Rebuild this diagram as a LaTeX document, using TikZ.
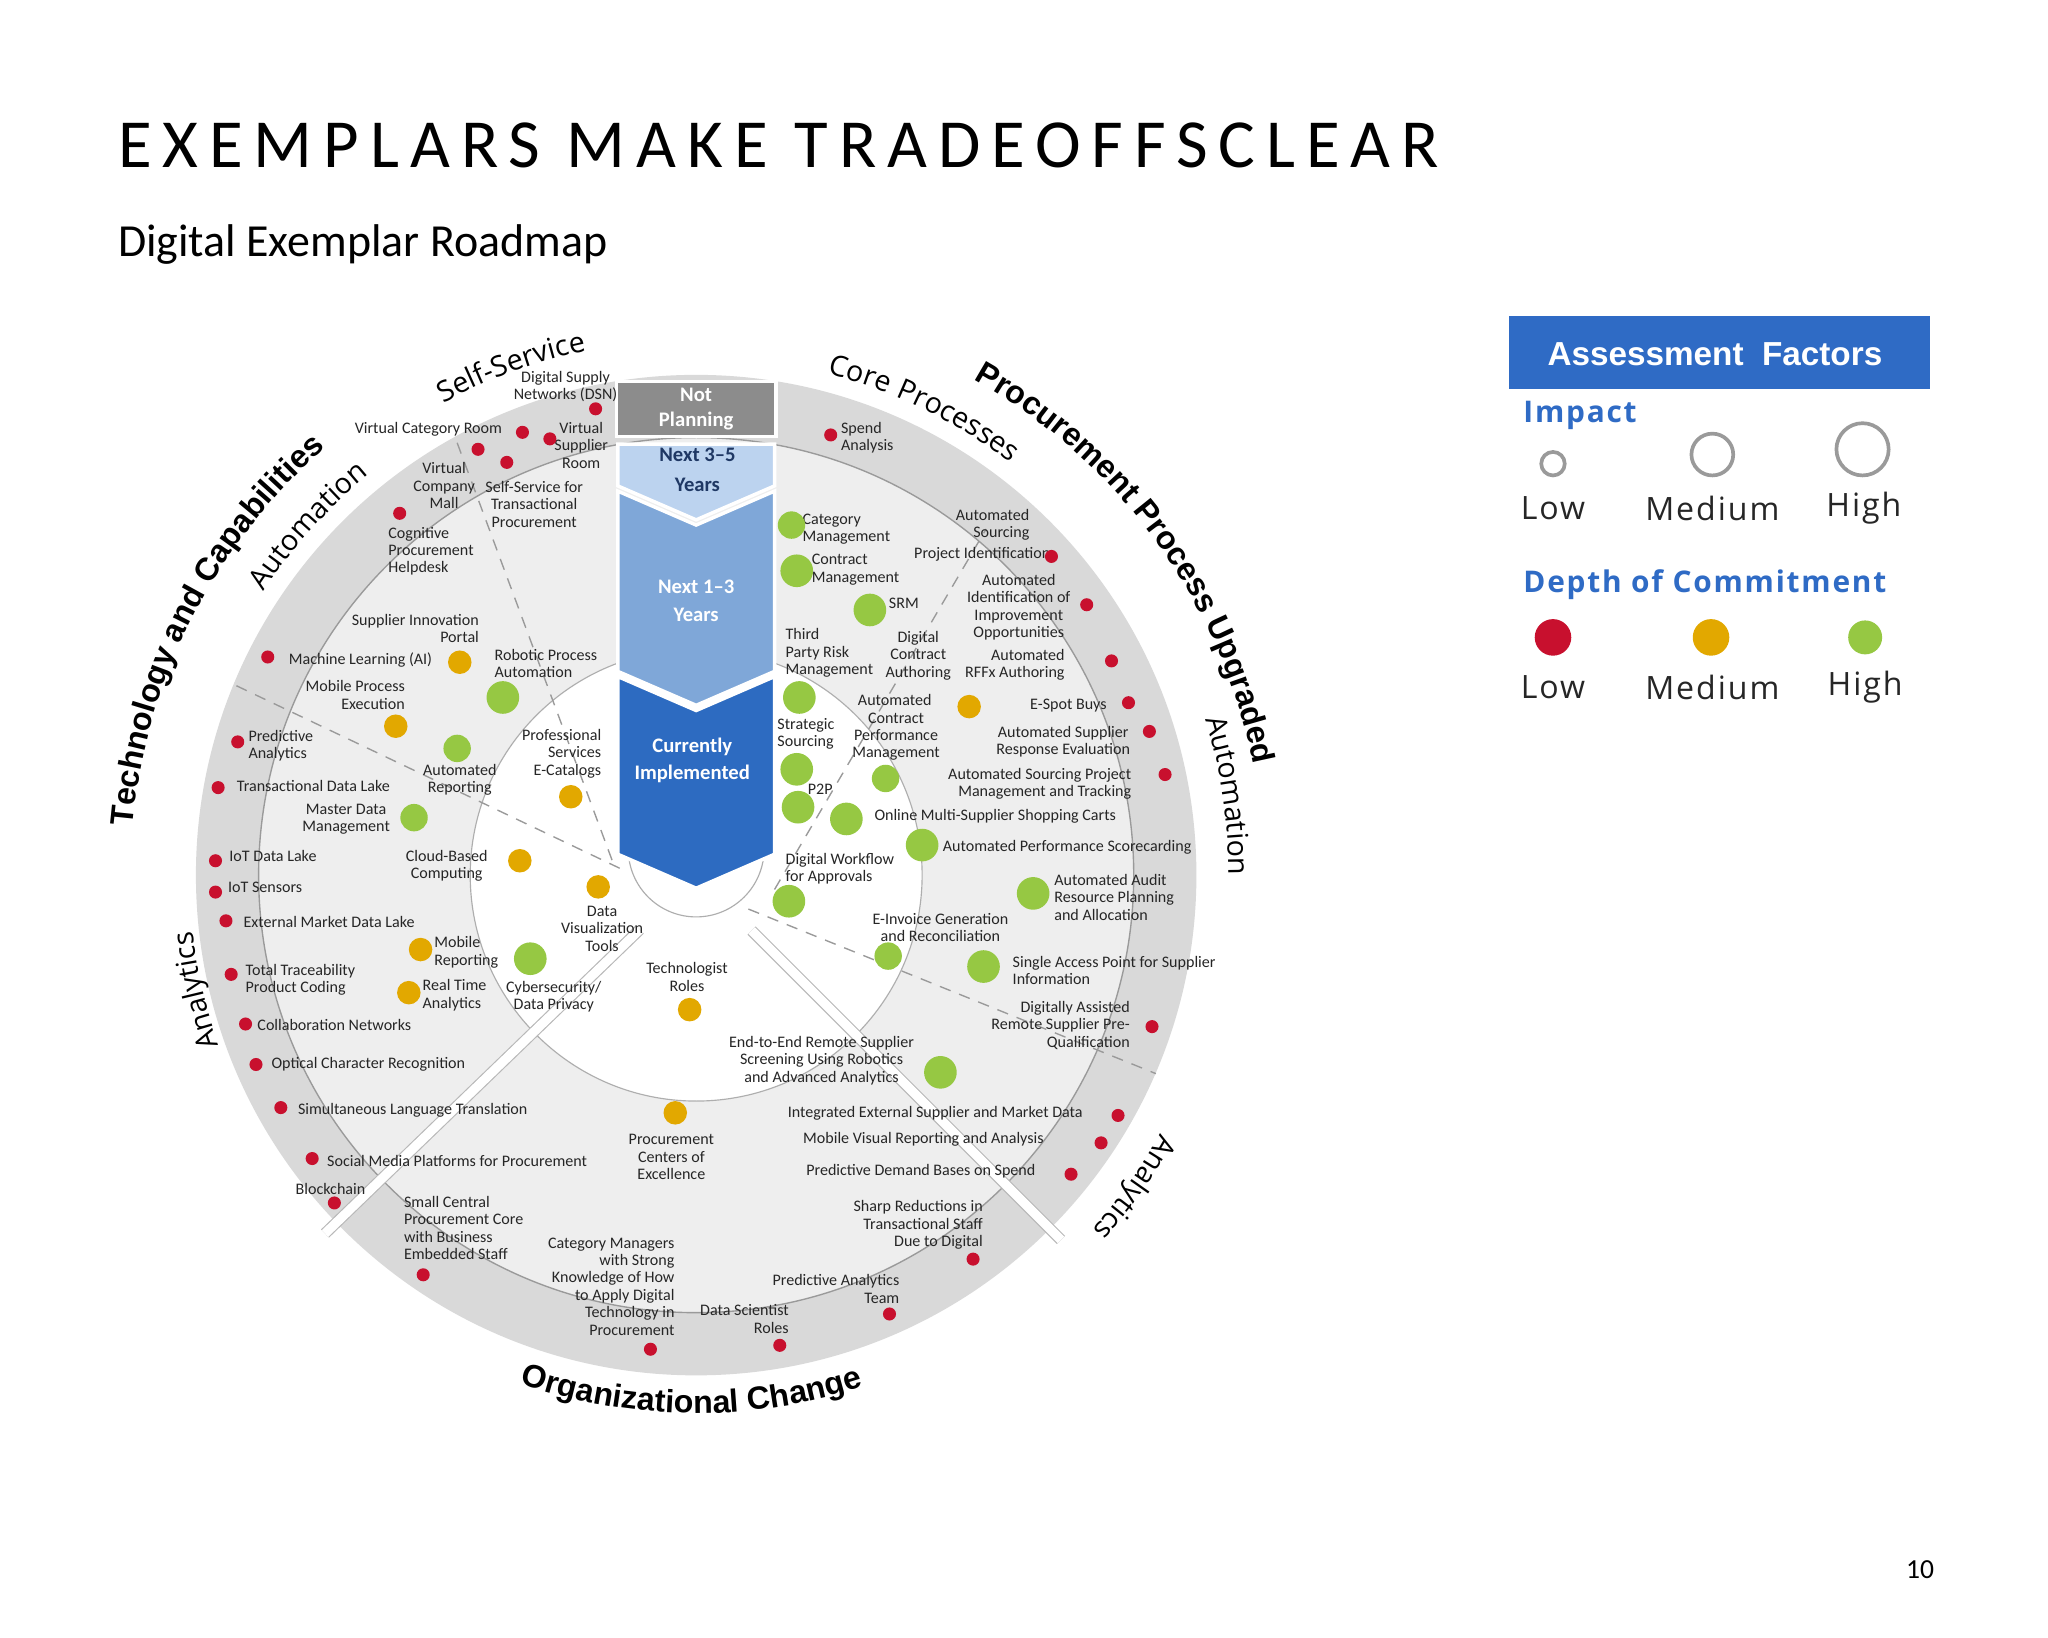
\documentclass[tikz,border=0pt]{standalone}
\usepackage{fontspec}
\setmainfont{Carlito}
\newfontfamily\titlefont[LetterSpace=16]{Carlito}
\newfontfamily\lblfont[LetterSpace=6]{Open Sans}
\newfontfamily\boldlbl{Liberation Sans}
\usetikzlibrary{decorations.text}
\definecolor{cred}{HTML}{C8102E}
\definecolor{cgold}{HTML}{E2A800}
\definecolor{cgreen}{HTML}{96C843}
\definecolor{ringgray}{HTML}{D9D9D9}
\definecolor{innergray}{HTML}{EEEEEE}
\definecolor{lgray}{HTML}{9A9A9A}
\definecolor{npgray}{HTML}{8C8C8C}
\definecolor{bl1}{HTML}{BCD3EF}
\definecolor{bl2}{HTML}{7FA7D8}
\definecolor{bl3}{HTML}{2D6BC1}
\definecolor{hdr}{HTML}{2F6BC5}
\definecolor{navy}{HTML}{1F3864}
\tikzset{
 rd/.style={circle,fill=cred,minimum size=0.2cm,inner sep=0},
 gd/.style={circle,fill=cgold,minimum size=0.36cm,inner sep=0},
 gn/.style={circle,fill=cgreen,minimum size=0.42cm,inner sep=0},
 gnl/.style={gn,minimum size=0.5cm},
 t/.style={font=\fontsize{7}{7.6}\selectfont,align=center,inner sep=0,text=black!85},
 dsh/.style={dashed,draw=lgray,line width=0.6pt,dash pattern=on 5pt off 4pt},
 gap/.style={draw=lgray!70,double=white,double distance=4pt,line width=0.5pt},
 arrowpart/.style={draw=white,line width=1.5pt},
 leg/.style={font=\lblfont\fontsize{14}{14}\selectfont,text=black!85},
}
\begin{document}
\begin{tikzpicture}[x=0.02cm,y=0.02cm]
\useasboundingbox (0,0) rectangle (1568,-1254);
\fill[white] (0,0) rectangle (1568,-1254);
\coordinate (C) at (533,-670);
% titles
\node[anchor=base west,inner sep=0,font=\titlefont\fontsize{30}{30}\selectfont] (title) at (90,-128) {EXEMPLARS MAKE TRADEOFFSCLEAR};
\node[anchor=base west,inner sep=0,font=\fontsize{20}{20}\selectfont] (sub) at (90,-196) {Digital Exemplar Roadmap};
\node[font=\fontsize{12}{12}\selectfont] (pg) at (1470,-1202) {10};
% rings
\fill[ringgray] (C) circle[radius=383];
\filldraw[fill=innergray,draw=lgray,line width=0.6pt] (C) circle[radius=335];
\filldraw[fill=white,draw=lgray!80,line width=0.5pt] (C) circle[radius=173];
% dashed section lines
\draw[dsh] (350,-339) -- (471,-665);
\draw[dsh] (181,-525) -- (475,-665);
\draw[dsh] (593,-681) -- (755,-405);
\draw[dsh] (573,-696) -- (885,-822);
% channel lines
\draw[gap] ([shift={(224:60)}]C) -- ([shift={(224:395)}]C);
\draw[gap] ([shift={(-45:60)}]C) -- ([shift={(-45:395)}]C);
\filldraw[fill=white,draw=lgray!80,line width=0.5pt] (533,-650) circle[radius=52];
% central arrow
\filldraw[arrowpart,fill=npgray] (472,-292) rectangle (594,-334);
\node[font=\bfseries\fontsize{9}{11}\selectfont,text=white,align=center] (np) at (533,-313) {Not\\Planning};
\filldraw[arrowpart,fill=bl1] (473,-340) -- (593,-340) -- (593,-372) -- (533,-398) -- (473,-372) -- cycle;
\node[font=\bfseries\fontsize{9}{13}\selectfont,text=navy,align=center] (n35) at (534,-360) {Next 3–5\\Years};
\filldraw[arrowpart,fill=bl2] (473,-376) -- (533,-402) -- (593,-376) -- (593,-514) -- (533,-540) -- (473,-514) -- cycle;
\node[font=\bfseries\fontsize{9}{12}\selectfont,text=white,align=center] (n13) at (533,-460) {Next 1–3\\Years};
\filldraw[arrowpart,fill=bl3] (473,-518) -- (533,-544) -- (593,-518) -- (593,-654) -- (533,-680) -- (473,-654) -- cycle;
\node[font=\bfseries\fontsize{9}{12}\selectfont,text=white,align=center] (cur) at (530,-582) {Currently\\Implemented};
% curved labels
\path[decorate,decoration={text along path,text align=center,text={|\lblfont\fontsize{12.5}{12.5}\selectfont|Self-Service}}] ([shift={(130:410)}]C) arc[start angle=130,end angle=90,radius=410];
\path[decorate,decoration={text along path,text align=center,text={|\lblfont\fontsize{12.5}{12.5}\selectfont|Core Processes}}] ([shift={(86:397)}]C) arc[start angle=86,end angle=42,radius=397];
\path[decorate,decoration={text along path,text align=center,text={|\boldlbl\bfseries\fontsize{14}{14}\selectfont|Procurement Process Upgraded}}] ([shift={(64:435)}]C) arc[start angle=64,end angle=8,radius=435];
\path[decorate,decoration={text along path,text align=center,text={|\boldlbl\bfseries\fontsize{14}{14}\selectfont|Technology and Capabilities}}] ([shift={(180:433)}]C) arc[start angle=180,end angle=126,radius=433];
\path[decorate,decoration={text along path,text align=center,text={|\lblfont\fontsize{12.5}{12.5}\selectfont|Automation}}] ([shift={(155:396)}]C) arc[start angle=155,end angle=121,radius=396];
\path[decorate,decoration={text along path,text align=center,text={|\lblfont\fontsize{12.5}{12.5}\selectfont|Automation}}] ([shift={(25:408)}]C) arc[start angle=25,end angle=-8,radius=408];
\path[decorate,decoration={text along path,text align=center,text={|\lblfont\fontsize{12.5}{12.5}\selectfont|Analytics}}] ([shift={(208:388)}]C) arc[start angle=208,end angle=178,radius=388];
\path[decorate,decoration={text along path,text align=center,text={|\lblfont\fontsize{12.5}{12.5}\selectfont|Analytics}}] ([shift={(-20:407)}]C) arc[start angle=-20,end angle=-51,radius=407];
\path[decorate,decoration={text along path,text align=center,text={|\boldlbl\bfseries\fontsize{14}{14}\selectfont|Organizational Change}}] ([shift={(240:412)}]C) arc[start angle=240,end angle=299,radius=412];
% ---- top-left (self-service)
\node[t] (a1) at (433,-296) {Digital Supply\\Networks (DSN)};
\node[t] (a2) at (328,-329) {Virtual Category Room};
\node[t] (a3) at (445,-341) {Virtual\\Supplier\\Room};
\node[t] (a4) at (340,-372) {Virtual\\Company\\Mall};
\node[t] (a5) at (409,-386) {Self-Service for\\Transactional\\Procurement};
\node[t,align=left] (a6) at (330,-422) {Cognitive\\Procurement\\Helpdesk};
\node[rd] (ra1) at (456,-313) {};
\node[rd] (ra2) at (400,-331) {};
\node[rd] (ra3) at (421,-336) {};
\node[rd] (ra4) at (366,-344) {};
\node[rd] (ra5) at (388,-354) {};
\node[rd] (ra6) at (306,-393) {};
% ---- left (automation)
\node[t,align=right] (b1) at (318,-481) {Supplier Innovation\\Portal};
\node[t] (b2) at (276,-505) {Machine Learning (AI)};
\node[rd] (rb2) at (205,-503) {};
\node[gd] (gb2) at (352,-507) {};
\node[t,align=left] (b3) at (418,-508) {Robotic Process\\Automation};
\node[gnl] (nb3) at (385,-534) {};
\node[t,align=right] (b4) at (272,-532) {Mobile Process\\Execution};
\node[gd] (gb4) at (303,-556) {};
\node[t,align=left] (b5) at (215,-571) {Predictive\\Analytics};
\node[rd] (rb5) at (182,-568) {};
\node[gn] (nb6) at (350,-573) {};
\node[t] (b6) at (352,-597) {Automated\\Reporting};
\node[t,align=right] (b7) at (430,-577) {Professional\\Services\\E-Catalogs};
\node[gd] (gb7) at (437,-610) {};
\node[t] (b8) at (240,-602) {Transactional Data Lake};
\node[rd] (rb8) at (167,-603) {};
\node[t] (b9) at (265,-627) {Master Data\\Management};
\node[gn] (nb9) at (317,-626) {};
\node[t] (b10) at (209,-655) {IoT Data Lake};
\node[rd] (rb10) at (165,-659) {};
\node[t] (b11) at (342,-663) {Cloud-Based\\Computing};
\node[gd] (gb11) at (398,-659) {};
\node[t] (b12) at (203,-679) {IoT Sensors};
\node[rd] (rb12) at (165,-683) {};
\node[gd] (gb13) at (458,-679) {};
\node[t] (b13) at (461,-711) {Data\\Visualization\\Tools};
\node[t] (b14) at (252,-706) {External Market Data Lake};
\node[rd] (rb14) at (173,-705) {};
% ---- left lower (analytics)
\node[gd] (gc1) at (322,-727) {};
\node[t,align=left] (c1) at (357,-729) {Mobile\\Reporting};
\node[gnl] (nc2) at (406,-734) {};
\node[t,align=left] (c3) at (230,-750) {Total Traceability\\Product Coding};
\node[rd] (rc3) at (177,-746) {};
\node[gd] (gc4) at (313,-760) {};
\node[t,align=left] (c4) at (348,-762) {Real Time\\Analytics};
\node[t] (c5) at (424,-763) {Cybersecurity/\\Data Privacy};
\node[t] (c6) at (526,-748) {Technologist\\Roles};
\node[gd] (gc6) at (528,-773) {};
\node[t] (c7) at (256,-785) {Collaboration Networks};
\node[rd] (rc7) at (188,-784) {};
\node[t] (c8) at (282,-815) {Optical Character Recognition};
\node[rd] (rc8) at (196,-815) {};
\node[t] (c9) at (316,-850) {Simultaneous Language Translation};
\node[rd] (rc9) at (215,-848) {};
\node[t] (c10) at (350,-889) {Social Media Platforms for Procurement};
\node[rd] (rc10) at (239,-887) {};
\node[t] (c11) at (253,-910) {Blockchain};
\node[rd] (rc11) at (256,-921) {};
% ---- bottom (organizational change)
\node[t,align=left] (d1) at (355,-940) {Small Central\\Procurement Core\\with Business\\Embedded Staff};
\node[rd] (rd1) at (324,-976) {};
\node[gd] (gd2) at (517,-852) {};
\node[t] (d2) at (514,-886) {Procurement\\Centers of\\Excellence};
\node[t,align=right] (d3) at (468,-985) {Category Managers\\with Strong\\Knowledge of How\\to Apply Digital\\Technology in\\Procurement};
\node[rd] (rd3) at (498,-1033) {};
\node[t,align=right] (d4) at (640,-987) {Predictive Analytics\\Team};
\node[rd] (rd4) at (681,-1006) {};
\node[t,align=right] (d5) at (570,-1010) {Data Scientist\\Roles};
\node[rd] (rd5) at (597,-1030) {};
\node[t,align=right] (d6) at (703,-938) {Sharp Reductions in\\Transactional Staff\\Due to Digital};
\node[rd] (rd6) at (745,-964) {};
% ---- right lower (analytics)
\node[t] (e1) at (629,-812) {End-to-End Remote Supplier\\Screening Using Robotics\\and Advanced Analytics};
\node[gnl] (ne1) at (720,-821) {};
\node[t] (e2) at (716,-852) {Integrated External Supplier and Market Data};
\node[rd] (re2) at (856,-854) {};
\node[t] (e3) at (707,-872) {Mobile Visual Reporting and Analysis};
\node[rd] (re3) at (843,-875) {};
\node[t] (e4) at (705,-897) {Predictive Demand Bases on Spend};
\node[rd] (re4) at (820,-899) {};
\node[t,align=right] (e5) at (812,-785) {Digitally Assisted\\Remote Supplier Pre-\\Qualification};
\node[rd] (re5) at (882,-786) {};
\node[t,align=left] (e6) at (853,-743) {Single Access Point for Supplier\\Information};
\node[gnl] (ne6) at (753,-740) {};
\node[t] (e7) at (720,-710) {E-Invoice Generation\\and Reconciliation};
\node[gn] (ne7) at (680,-732) {};
% ---- right (core / automation)
\node[t,align=left] (f1) at (853,-687) {Automated Audit\\Resource Planning\\and Allocation};
\node[gnl] (nf1) at (791,-684) {};
\node[t,align=left] (f2) at (643,-665) {Digital Workflow\\for Approvals};
\node[gnl] (nf2) at (604,-690) {};
\node[gnl] (nf3) at (706,-647) {};
\node[t] (f3) at (817,-649) {Automated Performance Scorecarding};
\node[gnl] (nf4) at (648,-627) {};
\node[t] (f4) at (762,-625) {Online Multi-Supplier Shopping Carts};
\node[gnl] (nf5) at (611,-618) {};
\node[gnl] (nf6) at (610,-589) {};
\node[t] (f5) at (628,-604) {P2P};
\node[gn] (nf7) at (678,-596) {};
\node[t,align=right] (f7) at (796,-600) {Automated Sourcing Project\\Management and Tracking};
\node[rd] (rf7) at (892,-593) {};
\node[t,align=left] (f8) at (617,-562) {Strategic\\Sourcing};
\node[t] (f9) at (686,-564) {Contract\\Performance\\Management};
\node[t] (f10) at (814,-568) {Automated Supplier\\Response Evaluation};
\node[rd] (rf10) at (880,-560) {};
\node[gnl] (nf11) at (612,-534) {};
\node[t] (f11) at (685,-536) {Automated};
\node[gd] (gf12) at (742,-541) {};
\node[t] (f12) at (818,-540) {E-Spot Buys};
\node[rd] (rf12) at (864,-538) {};
\node[t,align=left] (f13) at (635,-500) {Third\\Party Risk\\Management};
\node[t] (f14) at (703,-502) {Digital\\Contract\\Authoring};
\node[t,align=right] (f15) at (777,-509) {Automated\\RFFx Authoring};
\node[rd] (rf15) at (851,-506) {};
\node[gnl] (nf16) at (666,-467) {};
\node[t] (f16) at (692,-462) {SRM};
\node[t] (f17) at (780,-465) {Automated\\Identification of\\Improvement\\Opportunities};
\node[rd] (rf17) at (832,-463) {};
\node[gnl] (nf18) at (610,-437) {};
\node[t,align=left] (f18) at (655,-436) {Contract\\Management};
\node[t,align=left] (f19) at (648,-405) {Category\\Management};
\node[gn] (nf19) at (606,-402) {};
\node[t,align=right] (f20) at (760,-402) {Automated\\Sourcing};
\node[t] (f21) at (752,-424) {Project Identification};
\node[rd] (rf21) at (805,-426) {};
\node[rd] (rf22) at (636,-333) {};
\node[t,align=left] (f22) at (664,-335) {Spend\\Analysis};
% ---- legend
\fill[hdr] (1155,-242) rectangle (1478,-298);
\node[font=\boldlbl\bfseries\fontsize{14.5}{14.5}\selectfont,text=white] (lh) at (1313,-271) {Assessment\ \ Factors};
\node[anchor=west,inner sep=0,font=\lblfont\bfseries\fontsize{13}{13}\selectfont,text=hdr] (li) at (1166,-318) {Impact};
\draw[lgray,line width=1.6pt] (1189,-355) circle[radius=9];
\draw[lgray,line width=1.6pt] (1311,-348) circle[radius=16];
\draw[lgray,line width=1.6pt] (1426,-344) circle[radius=20];
\node[leg] (l1) at (1189,-389) {Low};
\node[leg] (l2) at (1311,-389) {Medium};
\node[leg] (l3) at (1427,-389) {High};
\node[anchor=west,inner sep=0,font=\lblfont\bfseries\fontsize{13}{13}\selectfont,text=hdr] (ld) at (1166,-448) {Depth of Commitment};
\fill[cred] (1189,-488) circle[radius=14];
\fill[cgold] (1310,-488) circle[radius=14];
\fill[cgreen] (1428,-488) circle[radius=13];
\node[leg] (l4) at (1189,-526) {Low};
\node[leg] (l5) at (1311,-526) {Medium};
\node[leg] (l6) at (1428,-526) {High};
\end{tikzpicture}
\end{document}
